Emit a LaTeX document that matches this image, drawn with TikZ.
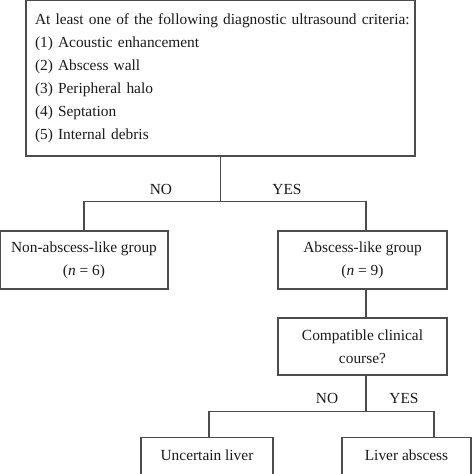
\documentclass[tikz,border=0pt]{standalone}
\usepackage{fontspec}
\setmainfont{Liberation Serif}
\usetikzlibrary{positioning}

\begin{document}
\begin{tikzpicture}[x=1pt,y=-1pt,line width=1.1pt]
        \useasboundingbox (0,0) rectangle (474,474);
        \clip (0,0) rectangle (474,474);

        \tikzstyle{every node}=[font=\fontsize{15.4}{23}\selectfont,text=black!90]

        \tikzstyle{box}=[draw=black!70,rectangle,align=center,inner sep=0pt]
        \tikzstyle{answer}=[draw=none,inner sep=0pt]
        \tikzstyle{link}=[draw=black!70]

        \node [box,align=left,text width=371pt,inner xsep=9pt,minimum height=155.5pt] (criteria) at (220.5,78.25)
              {\mbox{At least one of the following diagnostic ultrasound criteria:}\\
               (1) Acoustic enhancement\\
               (2) Abscess wall\\
               (3) Peripheral halo\\
               (4) Septation\\
               (5) Internal debris};

        \node [box,minimum width=168pt,minimum height=58pt] (nonabscess) at (84,260)
              {Non-abscess-like group\\(\textit{n} = 6)};
        \node [box,minimum width=169pt,minimum height=58pt] (abscess) at (362.5,260)
              {Abscess-like group\\(\textit{n} = 9)};
        \node [box,minimum width=169pt,minimum height=57pt] (course) at (362.5,346.5)
              {Compatible clinical\\course?};
        \node [box,minimum width=132pt,minimum height=58pt,anchor=north] (uncertain) at (207,437)
              {Uncertain liver\\\phantom{x}};
        \node [box,minimum width=129pt,minimum height=58pt,anchor=north] (liver) at (406.5,437)
              {Liver abscess\\\phantom{x}};

        \node [answer] (no1) at (161,189) {NO};
        \node [answer] (yes1) at (287,189) {YES};
        \node [answer] (no2) at (327,398) {NO};
        \node [answer] (yes2) at (404,398) {YES};

        \draw [link] (criteria.south) -- ++(0,45) coordinate (split1);              % first split
        \draw [link] (nonabscess.north) |- (split1) -| ([xshift=3.5pt]abscess.north); % NO / YES
        \draw [link] ([xshift=3.5pt]abscess.south) -- ([xshift=3.5pt]course.north);
        \draw [link] ([xshift=3.5pt]course.south) -- ++(0,36) coordinate (split2);  % second split
        \draw [link] ([xshift=2pt]uncertain.north) |- (split2) -| ([xshift=27.5pt]liver.north);
\end{tikzpicture}
\end{document}
